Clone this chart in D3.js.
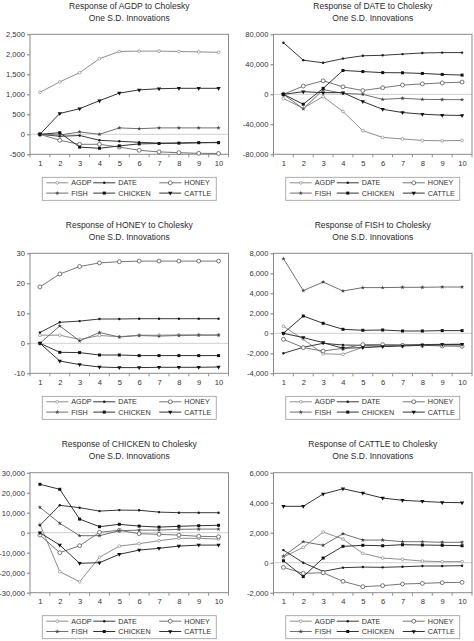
<!DOCTYPE html>
<html>
<head>
<meta charset="utf-8">
<script src="https://cdn.jsdelivr.net/npm/d3@7"></script>
<style>
    body { margin: 0; background: #fff; }
    svg { display: block; font-family: "Liberation Sans", Arial, sans-serif; }
</style>
</head>
<body>
<svg id="chart" width="474" height="641"></svg>
<script>
const PERIODS = [1, 2, 3, 4, 5, 6, 7, 8, 9, 10];
const SHOCKS = ["AGDP", "DATE", "HONEY", "FISH", "CHICKEN", "CATTLE"];

// one row per shock, same order as SHOCKS
const RESP_AGDP = [
    [1050, 1310, 1540, 1890, 2070, 2080, 2080, 2070, 2060, 2050],
    [0, -50, -30, -150, -175, -200, -220, -220, -210, -200],
    [0, -150, -250, -250, -320, -400, -440, -460, -475, -480],
    [0, -20, 60, 0, 160, 140, 160, 160, 160, 160],
    [0, 40, -320, -350, -290, -240, -230, -220, -210, -210],
    [0, 520, 640, 840, 1030, 1110, 1140, 1150, 1150, 1150],
];
const RESP_DATE = [
    [-5700, -18500, -3000, -23000, -48500, -57500, -59500, -61500, -62000, -61500],
    [68800, 45500, 42000, 47600, 51400, 52000, 53600, 55100, 55600, 55600],
    [0, 11000, 18000, 10000, 5000, 8800, 12300, 13900, 15200, 16300],
    [0, -19400, 6200, 1300, 0, -6800, -5300, -6800, -7000, -7200],
    [0, -13200, 7900, 31800, 30300, 28900, 28700, 27800, 26500, 25600],
    [0, 3500, 2200, 2200, -9700, -20000, -24300, -26500, -27800, -28200],
];
const RESP_HONEY = [
    [2.7, 2.7, 1.3, 2.6, 2.2, 2.7, 2.7, 2.8, 2.8, 2.8],
    [3.6, 7.0, 7.4, 8.1, 8.1, 8.2, 8.2, 8.2, 8.2, 8.2],
    [18.8, 23.1, 25.6, 26.8, 27.2, 27.4, 27.4, 27.4, 27.4, 27.4],
    [0, 5.8, 0.8, 3.6, 2.1, 2.6, 2.4, 2.6, 2.7, 2.7],
    [0, -3.0, -3.1, -3.9, -3.9, -4.1, -4.1, -4.1, -4.1, -4.1],
    [0, -5.9, -7.1, -7.9, -8.1, -8.1, -8.0, -8.0, -8.0, -7.9],
];
const RESP_FISH = [
    [700, -600, -2050, -2100, -1400, -1300, -1200, -1200, -1200, -1200],
    [-2000, -1400, -1000, -1170, -1200, -1170, -1170, -1130, -1100, -1100],
    [-600, -1430, -1770, -1500, -1130, -1130, -1200, -1200, -1270, -1300],
    [7470, 4270, 5130, 4230, 4570, 4570, 4600, 4600, 4630, 4630],
    [0, 1730, 1000, 400, 300, 330, 230, 230, 270, 270],
    [0, -430, -930, -1500, -1430, -1330, -1270, -1200, -1130, -1100],
];
const RESP_CHICKEN = [
    [4200, -19500, -24500, -12300, -6700, -5500, -4000, -2800, -2800, -3200],
    [3700, 13700, 12500, 10800, 11300, 11200, 10300, 10000, 10000, 10000],
    [-1200, -10000, -6500, 200, 1200, -500, -800, -1200, -1800, -2000],
    [12700, 4700, -1500, -1500, 1000, 1300, 1300, 1700, 1800, 1800],
    [24200, 21700, 6800, 3000, 4200, 3300, 2800, 3200, 3500, 3700],
    [0, -6200, -15300, -15000, -10800, -8700, -7800, -6700, -6200, -6200],
];
const RESP_CATTLE = [
    [380, 1020, 2040, 1580, 620, 310, 220, 110, 70, 70],
    [840, 0, -580, -330, -290, -310, -270, -220, -220, -200],
    [-310, -710, -670, -1240, -1600, -1530, -1420, -1380, -1330, -1310],
    [440, 1400, 1160, 1930, 1510, 1510, 1400, 1400, 1360, 1360],
    [130, -930, 310, 1090, 1160, 1130, 1200, 1180, 1160, 1130],
    [3760, 3760, 4580, 4930, 4640, 4310, 4160, 4090, 4020, 4000],
];

const TICKS_AGDP = [-500, 0, 500, 1000, 1500, 2000, 2500];
const TICKS_DATE = [-80000, -40000, 0, 40000, 80000];
const TICKS_HONEY = [-10, 0, 10, 20, 30];
const TICKS_FISH = [-4000, -2000, 0, 2000, 4000, 6000, 8000];
const TICKS_CHICKEN = [-30000, -20000, -10000, 0, 10000, 20000, 30000];
const TICKS_CATTLE = [-2000, 0, 2000, 4000, 6000];

const PANELS = [
    { name: "AGDP", resp: RESP_AGDP, ticks: TICKS_AGDP },
    { name: "DATE", resp: RESP_DATE, ticks: TICKS_DATE },
    { name: "HONEY", resp: RESP_HONEY, ticks: TICKS_HONEY },
    { name: "FISH", resp: RESP_FISH, ticks: TICKS_FISH },
    { name: "CHICKEN", resp: RESP_CHICKEN, ticks: TICKS_CHICKEN },
    { name: "CATTLE", resp: RESP_CATTLE, ticks: TICKS_CATTLE },
];

// layout
const COL_X = [30, 273.5];
const ROW_Y = [34.3, 253.3, 472.7];
const PLOT_W = 198.5;
const PLOT_H = 120;

// marker + line style per shock
const STYLE = {
    AGDP: { line: "#8f8f8f", sym: d3.symbolCircle, size: 6, fill: "#fff", stroke: "#8a8a8a" },
    DATE: { line: "#3a3a3a", sym: d3.symbolCircle, size: 4.5, fill: "#1a1a1a", stroke: "none" },
    HONEY: { line: "#777", sym: d3.symbolCircle, size: 12, fill: "#fff", stroke: "#444" },
    FISH: { line: "#707070", sym: d3.symbolStar, size: 6, fill: "#444", stroke: "none" },
    CHICKEN: { line: "#333", sym: d3.symbolSquare, size: 9, fill: "#111", stroke: "none" },
    CATTLE: { line: "#333", sym: d3.symbolTriangle, size: 8, fill: "#111", stroke: "none", flip: true },
};

const fmt = d3.formatLocale({
    decimal: ".",
    thousands: ",",
    grouping: [3],
    currency: ["$", ""],
    minus: "-",
}).format(",");

const svg = d3.select("#chart");
svg.append("rect").attr("width", 474).attr("height", 641).attr("fill", "#fff");

const drawMarker = (g, name, cx, cy) => {
    const s = STYLE[name];
    g.append("path")
        .attr("d", d3.symbol().type(s.sym).size(s.size)())
        .attr("transform", `translate(${cx},${cy})` + (s.flip ? " rotate(180)" : ""))
        .attr("fill", s.fill)
        .attr("stroke", s.stroke)
        .attr("stroke-width", 0.7);
};

PANELS.forEach((p, i) => {
    const x0 = COL_X[i % 2];
    const y0 = ROW_Y[Math.floor(i / 2)];
    const g = svg.append("g");

    const x = d3.scalePoint().domain(PERIODS).range([x0, x0 + PLOT_W]).padding(0.5);
    const y = d3.scaleLinear().domain(d3.extent(p.ticks)).range([y0 + PLOT_H, y0]);

    // titles
    const cx = x0 + PLOT_W / 2;
    g.append("text")
        .attr("x", cx).attr("y", y0 - 25.5)
        .attr("text-anchor", "middle").attr("font-size", 8.5).attr("fill", "#2a2a2a")
        .text(`Response of ${p.name} to Cholesky`);
    g.append("text")
        .attr("x", cx).attr("y", y0 - 13.5)
        .attr("text-anchor", "middle").attr("font-size", 8.5).attr("fill", "#2a2a2a")
        .text("One S.D. Innovations");

    // zero line
    g.append("line")
        .attr("x1", x0).attr("x2", x0 + PLOT_W)
        .attr("y1", y(0)).attr("y2", y(0))
        .attr("stroke", "#cfcfcf").attr("stroke-width", 1);

    // y axis
    const yAxis = g.append("g")
        .attr("transform", `translate(${x0},0)`)
        .call(d3.axisLeft(y).tickValues(p.ticks).tickFormat(fmt).tickSize(3).tickPadding(2));
    yAxis.select(".domain").remove();
    yAxis.selectAll("line").attr("stroke", "#777");
    yAxis.selectAll("text").attr("font-size", 7.6).attr("fill", "#333")
        .attr("font-family", "Liberation Sans, Arial, sans-serif");

    // x axis (labels at centres, ticks on period boundaries)
    const xAxis = g.append("g")
        .attr("transform", `translate(0,${y0 + PLOT_H})`)
        .call(d3.axisBottom(x).tickSize(0).tickPadding(6.3));
    xAxis.select(".domain").remove();
    xAxis.selectAll("text").attr("font-size", 7.6).attr("fill", "#333")
        .attr("font-family", "Liberation Sans, Arial, sans-serif");
    const step = x.step();
    g.selectAll("line.xtick")
        .data(d3.range(PERIODS.length + 1))
        .join("line")
        .attr("class", "xtick")
        .attr("x1", (d) => x(PERIODS[0]) - step / 2 + d * step)
        .attr("x2", (d) => x(PERIODS[0]) - step / 2 + d * step)
        .attr("y1", y0 + PLOT_H).attr("y2", y0 + PLOT_H + 3)
        .attr("stroke", "#777").attr("stroke-width", 0.8);

    // frame
    g.append("rect")
        .attr("x", x0).attr("y", y0).attr("width", PLOT_W).attr("height", PLOT_H)
        .attr("fill", "none").attr("stroke", "#8a8a8a").attr("stroke-width", 1);

    // series
    const line = d3.line().x((d, j) => x(PERIODS[j])).y((d) => y(d));
    SHOCKS.forEach((name, k) => {
        g.append("path")
            .attr("d", line(p.resp[k]))
            .attr("fill", "none")
            .attr("stroke", STYLE[name].line)
            .attr("stroke-width", 1);
    });
    SHOCKS.forEach((name, k) => {
        p.resp[k].forEach((v, j) => drawMarker(g, name, x(PERIODS[j]), y(v)));
    });

    // legend
    const lgW = 174;
    const lgX = cx - lgW / 2;
    const lgY = y0 + PLOT_H + 23;
    g.append("rect")
        .attr("x", lgX).attr("y", lgY).attr("width", lgW).attr("height", 23)
        .attr("fill", "#fff").attr("stroke", "#9a9a9a").attr("stroke-width", 0.8);
    const colX = [4, 51, 117];
    SHOCKS.forEach((name, k) => {
        const lx = lgX + colX[k % 3];
        const ly = lgY + 5.5 + Math.floor(k / 3) * 10.3;
        g.append("line")
            .attr("x1", lx).attr("x2", lx + 22)
            .attr("y1", ly).attr("y2", ly)
            .attr("stroke", STYLE[name].line).attr("stroke-width", 1);
        drawMarker(g, name, lx + 11, ly);
        g.append("text")
            .attr("x", lx + 25).attr("y", ly).attr("dy", "0.35em")
            .attr("font-size", 7.2).attr("fill", "#333")
            .text(name);
    });
});
</script>
</body>
</html>
